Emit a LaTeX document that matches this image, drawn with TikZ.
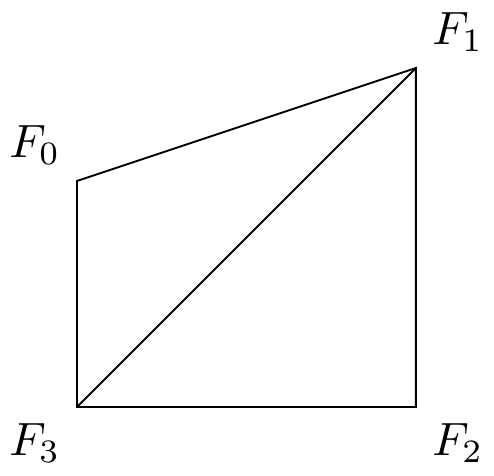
\documentclass[tikz,border=0pt]{standalone}
\begin{document}
\begin{tikzpicture}[x=0.85cm, y=0.85cm, baseline]
    \useasboundingbox (-0.681,-0.602) rectangle (3.691,3.602);
    \coordinate[label=above left:$F_0$] (F0) at (0,2);
    \coordinate[label=above right:$F_1$] (F1) at (3,3);
    \coordinate[label=below right:$F_2$] (F2) at (3,0);
    \coordinate[label=below left:$F_3$] (F3) at (0,0);
    \draw (F3) -- (F0) -- (F1) -- (F2) -- cycle;
    \draw (F3) -- (F1);
\end{tikzpicture}
\end{document}
